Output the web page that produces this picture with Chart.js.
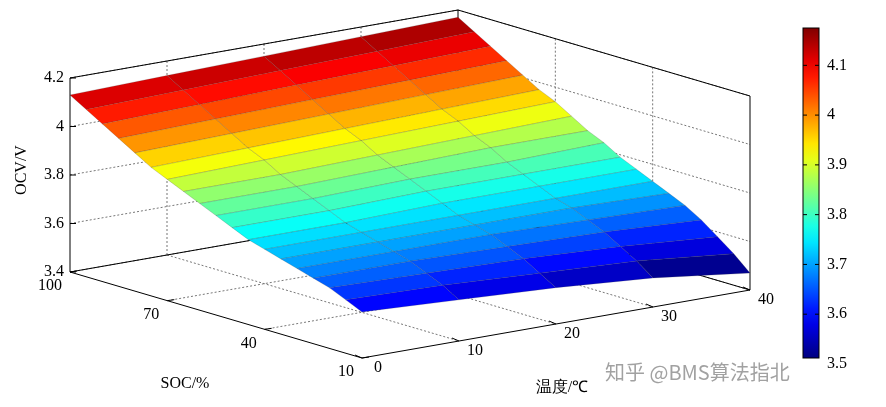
<!DOCTYPE html>
<html><head><meta charset="utf-8">
<script src="https://cdn.jsdelivr.net/npm/chart.js@4/dist/chart.umd.min.js"></script>
<style>body{margin:0;background:#fff}</style>
</head><body>
<canvas id="c" width="886" height="407"></canvas>
<script>
// grid of the surface
const socLevels = [10,15,20,25,30,35,40,45,50,55,60,65,70,75,80,85,90,95,100];
const tempLevels = [0,10,20,30,40];
// OCV (V), one row per SOC, columns = tempLevels
const ocv = [
  [3.59,3.57,3.55,3.52,3.47],
  [3.62,3.61,3.59,3.57,3.53],
  [3.65,3.64,3.63,3.61,3.58],
  [3.67,3.67,3.66,3.65,3.63],
  [3.69,3.69,3.69,3.68,3.67],
  [3.71,3.71,3.71,3.71,3.70],
  [3.73,3.73,3.73,3.73,3.73],
  [3.75,3.75,3.76,3.76,3.76],
  [3.78,3.78,3.79,3.79,3.79],
  [3.81,3.81,3.82,3.82,3.83],
  [3.84,3.84,3.85,3.86,3.86],
  [3.87,3.87,3.88,3.89,3.90],
  [3.90,3.91,3.92,3.93,3.94],
  [3.93,3.94,3.95,3.96,3.97],
  [3.97,3.98,3.99,4.00,4.01],
  [4.01,4.02,4.03,4.04,4.05],
  [4.05,4.06,4.07,4.08,4.09],
  [4.09,4.10,4.11,4.12,4.13],
  [4.13,4.14,4.15,4.16,4.17]
];
const zTicks = [3.4,3.6,3.8,4.0,4.2];
const socTicks = [10,40,70,100];
const tempTicks = [0,10,20,30,40];
const cbarTicks = [3.5,3.6,3.7,3.8,3.9,4.0,4.1];
const cMin = 3.512, cMax = 4.175;

// view: origin at SOC=10, T=0, OCV=3.4
function proj(soc, t, z) {
  const a = (soc - 10) / 90, b = t / 40, c = (z - 3.4) / 0.8;
  return {x: 362 - 292*a + 388*b, y: 358 - 86*a - 68*b - 194*c};
}
function jet(v) {
  let f = (v - cMin) / (cMax - cMin); f = Math.max(0, Math.min(1, f));
  const cl = x => Math.round(255*Math.max(0, Math.min(1, x)));
  return `rgb(${cl(1.5-Math.abs(4*f-3))},${cl(1.5-Math.abs(4*f-2))},${cl(1.5-Math.abs(4*f-1))})`;
}

const pts = [];
socLevels.forEach((s,i) => tempLevels.forEach((t,j) => pts.push(proj(s,t,ocv[i][j]))));

const surfacePlugin = {
  id: 'surface',
  afterDatasetsDraw(chart) {
    const ctx = chart.ctx, xs = chart.scales.x, ys = chart.scales.y;
    const P = (s,t,z) => { const p = proj(s,t,z); return [xs.getPixelForValue(p.x), ys.getPixelForValue(p.y)]; };
    const line = (a, b, col, dash, w) => {
      ctx.beginPath(); ctx.setLineDash(dash || []); ctx.strokeStyle = col; ctx.lineWidth = w || 1;
      ctx.moveTo(a[0],a[1]); ctx.lineTo(b[0],b[1]); ctx.stroke(); ctx.setLineDash([]);
    };
    ctx.save();
    // back walls grid
    const g = '#777', d = [2,2];
    zTicks.forEach(z => { line(P(100,0,z), P(100,40,z), g, d); line(P(100,40,z), P(10,40,z), g, d); });
    [10,20,30].forEach(t => { line(P(100,t,3.4), P(100,t,4.2), g, d); line(P(100,t,3.4), P(10,t,3.4), g, d); });
    [40,70].forEach(s => { line(P(s,40,3.4), P(s,40,4.2), g, d); line(P(s,0,3.4), P(s,40,3.4), g, d); });
    // box edges
    const k = '#000';
    line(P(100,0,4.2), P(100,40,4.2), k); line(P(100,40,4.2), P(10,40,4.2), k);
    line(P(100,40,3.4), P(100,40,4.2), k); line(P(10,40,3.4), P(10,40,4.2), k);
    line(P(100,0,3.4), P(100,40,3.4), k); line(P(100,40,3.4), P(10,40,3.4), k);
    // surface, far to near
    const quads = [];
    for (let i = 0; i < socLevels.length-1; i++)
      for (let j = 0; j < tempLevels.length-1; j++) quads.push([i,j]);
    quads.sort((a,b) => (b[0]-b[1]*0.5) - (a[0]-a[1]*0.5));
    quads.forEach(([i,j]) => {
      const c = [[i,j],[i,j+1],[i+1,j+1],[i+1,j]].map(([a,b]) => P(socLevels[a], tempLevels[b], ocv[a][b]));
      const v = (ocv[i][j]+ocv[i][j+1]+ocv[i+1][j]+ocv[i+1][j+1])/4;
      ctx.beginPath(); ctx.moveTo(c[0][0],c[0][1]); c.slice(1).forEach(p => ctx.lineTo(p[0],p[1])); ctx.closePath();
      ctx.fillStyle = jet(v); ctx.fill();
      ctx.strokeStyle = 'rgba(60,60,60,0.35)'; ctx.lineWidth = 0.6; ctx.stroke();
    });
    // front axes
    line(P(100,0,3.4), P(100,0,4.2), k);
    line(P(100,0,3.4), P(10,0,3.4), k);
    line(P(10,0,3.4), P(10,40,3.4), k);
    ctx.fillStyle = '#000'; ctx.font = '16px "Liberation Serif"';
    ctx.textAlign = 'right'; ctx.textBaseline = 'middle';
    zTicks.forEach(z => { const p = P(100,0,z); line(p, [p[0]+6,p[1]], k); ctx.fillText(z === 4 ? '4' : z.toFixed(1), p[0]-6, p[1]); });
    socTicks.forEach(s => { const p = P(s,0,3.4); line(p, [p[0]+7,p[1]-1], k); ctx.fillText(String(s), p[0]-8, p[1]+14); });
    ctx.textAlign = 'center';
    tempTicks.forEach(t => { const p = P(10,t,3.4); line(p, [p[0]-7,p[1]-3], k); ctx.fillText(String(t), p[0]+16, p[1]+10); });
    // titles
    ctx.fillText('SOC/%', 185, 384);
    ctx.fillText('温度/℃', 562, 388);
    ctx.save(); ctx.translate(22, 170); ctx.rotate(-Math.PI/2); ctx.fillText('OCV/V', 0, 0); ctx.restore();
    // colorbar
    const top = 28, bot = 358, L = 803, W = 16;
    const grad = ctx.createLinearGradient(0, bot, 0, top);
    for (let n = 0; n <= 20; n++) grad.addColorStop(n/20, jet(cMin + (cMax-cMin)*n/20));
    ctx.fillStyle = grad; ctx.fillRect(L, top, W, bot-top);
    ctx.strokeStyle = '#000'; ctx.lineWidth = 1; ctx.strokeRect(L, top, W, bot-top);
    ctx.fillStyle = '#000'; ctx.textAlign = 'left';
    cbarTicks.forEach(v => {
      const y = bot - (v - cMin)/(cMax - cMin)*(bot-top);
      if (y > bot + 8) return;
      if (y <= bot) { line([L,y],[L+4,y],k); line([L+W,y],[L+W-4,y],k); }
      ctx.fillText(v === 4 ? '4' : v.toFixed(1), L+W+8, y);
    });
    // watermark
    ctx.font = '20px "Noto Sans CJK SC"'; ctx.fillStyle = 'rgba(130,130,130,0.75)';
    ctx.fillText('知乎 @BMS算法指北', 605, 372);
    ctx.restore();
  }
};

new Chart(document.getElementById('c'), {
  type: 'scatter',
  data: { datasets: [{ data: pts, pointRadius: 0 }] },
  options: {
    responsive: false, animation: false,
    layout: { padding: 0 },
    plugins: { legend: { display: false }, tooltip: { enabled: false } },
    scales: {
      x: { type: 'linear', min: 0, max: 886, display: false },
      y: { type: 'linear', min: 0, max: 407, reverse: true, display: false }
    }
  },
  plugins: [surfacePlugin]
});
</script>
</body></html>
